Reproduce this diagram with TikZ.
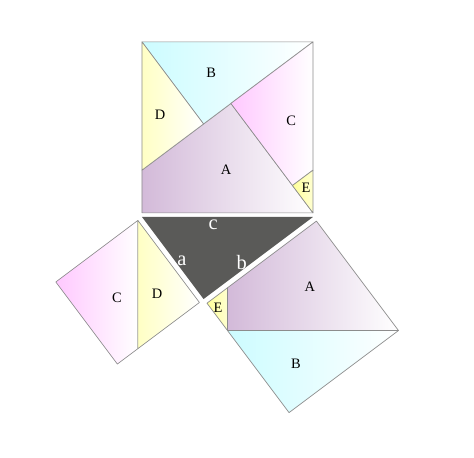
\documentclass[tikz,border=0pt]{standalone}
\usepackage{fontspec}
\setmainfont{Liberation Serif}
\definecolor{edgegray}{HTML}{8C8C8C}
\definecolor{darkpiece}{HTML}{5A5A58}
\definecolor{pieceA}{HTML}{D3BAD9}
\definecolor{pieceB}{HTML}{CCFCFF}
\definecolor{pieceC}{HTML}{FFC8FF}
\definecolor{pieceD}{HTML}{FFFFC4}
\definecolor{pieceE}{HTML}{FFFF99}
\begin{document}
\begin{tikzpicture}[
    piece/.style ={draw=edgegray, line width=0.55pt, line join=round, right color=white},
    letter/.style ={font=\fontsize{12}{14}\selectfont, text=black, inner sep=0pt},
    leg/.style ={font=\fontsize{17}{20}\selectfont, text=white, inner sep=0pt}]
   \useasboundingbox (-4.152,-7.018) rectangle (9.708,6.345);

   % right triangle
   \coordinate (P) at (0,0);
   \coordinate (Q) at (5,0);
   \coordinate (R) at (1.8,-2.4);
   \fill[darkpiece] (P) -- (Q) -- (R) -- cycle;
   \node[leg] (c) at (2.08,-0.24) {c};
   \node[leg] (a) at (1.17,-1.28) {a};
   \node[leg] (b) at (2.92,-1.32) {b};

   % square on the hypotenuse
   \begin{scope}[shift={(0,0.12)}]
   \coordinate (K1) at (0,0);
   \coordinate (K2) at (5,0);
   \coordinate (K3) at (5,5);
   \coordinate (K4) at (0,5);
   \coordinate (K5) at (0,1.25);
   \coordinate (K6) at (1.8,2.6);
   \coordinate (K7) at (2.6,3.2);
   \coordinate (K8) at (4.4,0.8);
   \coordinate (K9) at (5,1.25);
   \draw[piece, left color=pieceA] (K1) -- (K5) -- (K7) -- (K8) -- (K2) -- cycle;
   \draw[piece, left color=pieceB] (K4) -- (K3) -- (K6) -- cycle;
   \draw[piece, left color=pieceC] (K7) -- (K3) -- (K9) -- (K8) -- cycle;
   \draw[piece, left color=pieceD] (K4) -- (K6) -- (K5) -- cycle;
   \draw[piece, left color=pieceE, right color=pieceE!45] (K8) -- (K9) -- (K2) -- cycle;
   \end{scope}
   \node[letter] (A1) at (2.46,1.37) {A};
   \node[letter] (B1) at (2.02,4.21) {B};
   \node[letter] (C1) at (4.36,2.81) {C};
   \node[letter] (D1) at (0.53,2.98) {D};
   \node[letter] (E1) at (4.8,0.84) {E};

   % square on leg a
   \begin{scope}[shift={(-0.12,-0.1)}]
   \coordinate (L1) at (0,0);
   \coordinate (L2) at (1.8,-2.4);
   \coordinate (L3) at (-0.6,-4.2);
   \coordinate (L4) at (-2.4,-1.8);
   \coordinate (L5) at (0,-3.75);
   \draw[piece, left color=pieceC] (L1) -- (L5) -- (L3) -- (L4) -- cycle;
   \draw[piece, left color=pieceD] (L1) -- (L2) -- (L5) -- cycle;
   \end{scope}
   \node[letter] (C2) at (-0.73,-2.37) {C};
   \node[letter] (D2) at (0.44,-2.25) {D};

   % square on leg b
   \begin{scope}[shift={(0.1,-0.12)}]
   \coordinate (M1) at (1.8,-2.4);
   \coordinate (M2) at (5,0);
   \coordinate (M3) at (7.4,-3.2);
   \coordinate (M4) at (4.2,-5.6);
   \coordinate (M5) at (2.4,-3.2);
   \coordinate (M6) at (2.4,-1.95);
   \draw[piece, left color=pieceA] (M6) -- (M2) -- (M3) -- (M5) -- cycle;
   \draw[piece, left color=pieceB] (M5) -- (M3) -- (M4) -- cycle;
   \draw[piece, left color=pieceE, right color=pieceE!45] (M1) -- (M6) -- (M5) -- cycle;
   \end{scope}
   \node[letter] (A2) at (4.91,-2.05) {A};
   \node[letter] (B2) at (4.5,-4.3) {B};
   \node[letter] (E2) at (2.22,-2.66) {E};
\end{tikzpicture}
\end{document}
